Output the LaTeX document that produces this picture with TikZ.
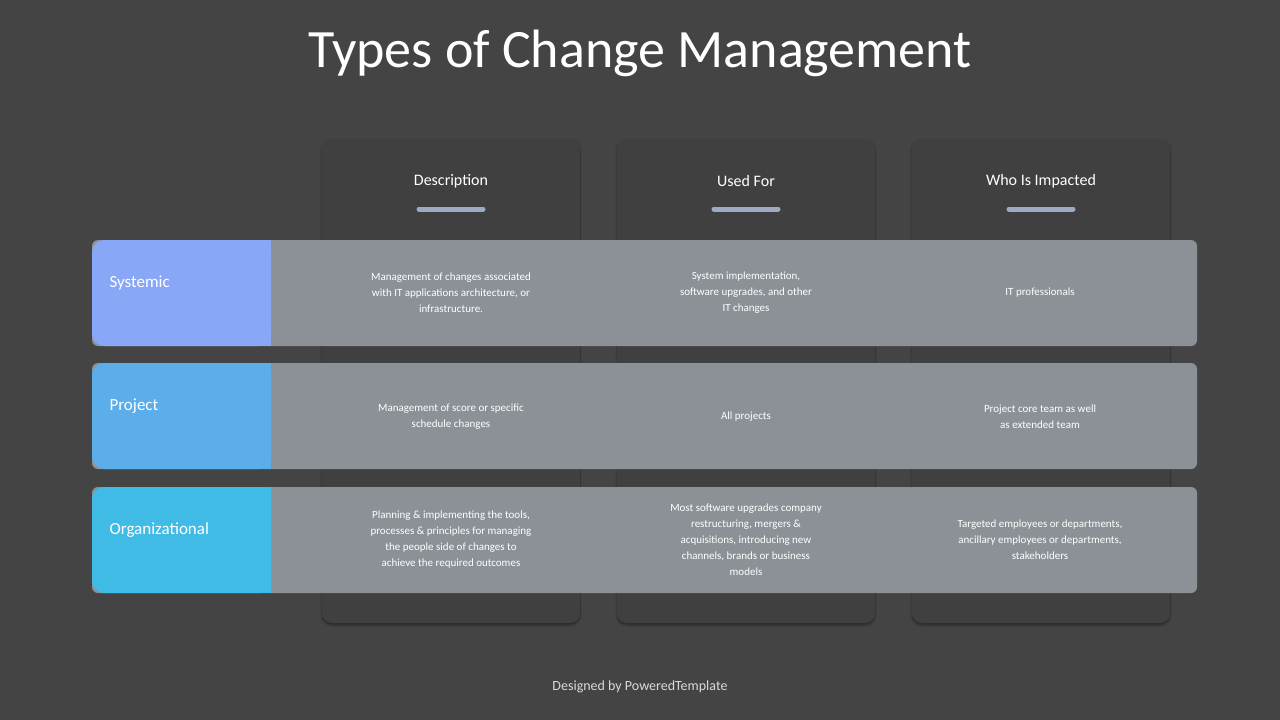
\documentclass[tikz,border=0pt]{standalone}
\usepackage{fontspec}
\setmainfont{Carlito}
\usetikzlibrary{shadows.blur}
\definecolor{bg}{HTML}{444444}
\definecolor{colf}{HTML}{404040}
\definecolor{rowf}{HTML}{8C9197}
\definecolor{barc}{HTML}{9DAAC2}
\definecolor{cA}{HTML}{88A7F7}
\definecolor{cB}{HTML}{5BAEEA}
\definecolor{cC}{HTML}{40BBE6}
\tikzset{
 colbox/.style={fill=colf,rounded corners=10pt,blur shadow={shadow blur steps=8,shadow xshift=0pt,shadow yshift=-2pt,shadow opacity=40}},
 rowbox/.style={fill=rowf,rounded corners=6pt},
 lab/.style={text=white,font=\fontsize{17}{20}\selectfont,anchor=west},
 cell/.style={text=white,font=\fontsize{11}{16}\selectfont,align=center},
 head/.style={text=white,font=\fontsize{16}{19}\selectfont},
 bar/.style={line width=5pt,line cap=round,draw=barc}
}
\begin{document}
\begin{tikzpicture}[x=1pt,y=-1pt]
\fill[bg] (0,0) rectangle (1280,720);
\useasboundingbox (0,0) rectangle (1280,720);
\node[text=white,font=\fontsize{54}{60}\selectfont] (title) at (640,53) {Types of Change Management};
\foreach \x/\t/\n in {322/Description/a,617/Used For/b,912/Who Is Impacted/c}{
 \path[colbox] (\x,139) rectangle ++(258,484);
 \node[head] (h\n) at (\x+129,181) {\t};
 \draw[bar] (\x+97,209) -- (\x+161,209);
}
\foreach \y/\c/\t/\n in {240/cA/Systemic/s,363/cB/Project/p,487/cC/Organizational/o}{
 \path[rowbox] (92,\y) rectangle (1197,\y+106);
 \path[fill=\c,rounded corners=12pt] (92,\y) -- (271,\y) -- (271,\y+106) -- (92,\y+106) -- cycle;
 \fill[\c] (250,\y) rectangle (271,\y+106);
 \node[lab] (l\n) at (106,\y+43) {\t};
}
\node[cell] at (451,293) {Management of changes associated\\with IT applications architecture, or\\infrastructure.};
\node[cell] at (746,293) {System implementation,\\software upgrades, and other\\IT changes};
\node[cell] at (1040,293) {IT professionals};
\node[cell] at (451,417) {Management of score or specific\\schedule changes};
\node[cell] at (746,417) {All projects};
\node[cell] at (1040,417) {Project core team as well\\as extended team};
\node[cell] at (451,540) {Planning \& implementing the tools,\\processes \& principles for managing\\the people side of changes to\\achieve the required outcomes};
\node[cell] at (746,540) {Most software upgrades company\\restructuring, mergers \&\\acquisitions, introducing new\\channels, brands or business\\models};
\node[cell] at (1040,540) {Targeted employees or departments,\\ancillary employees or departments,\\stakeholders};
\node[text=white!80!bg,font=\fontsize{14}{16}\selectfont] (foot) at (640,687) {Designed by PoweredTemplate};
\end{tikzpicture}
\end{document}
